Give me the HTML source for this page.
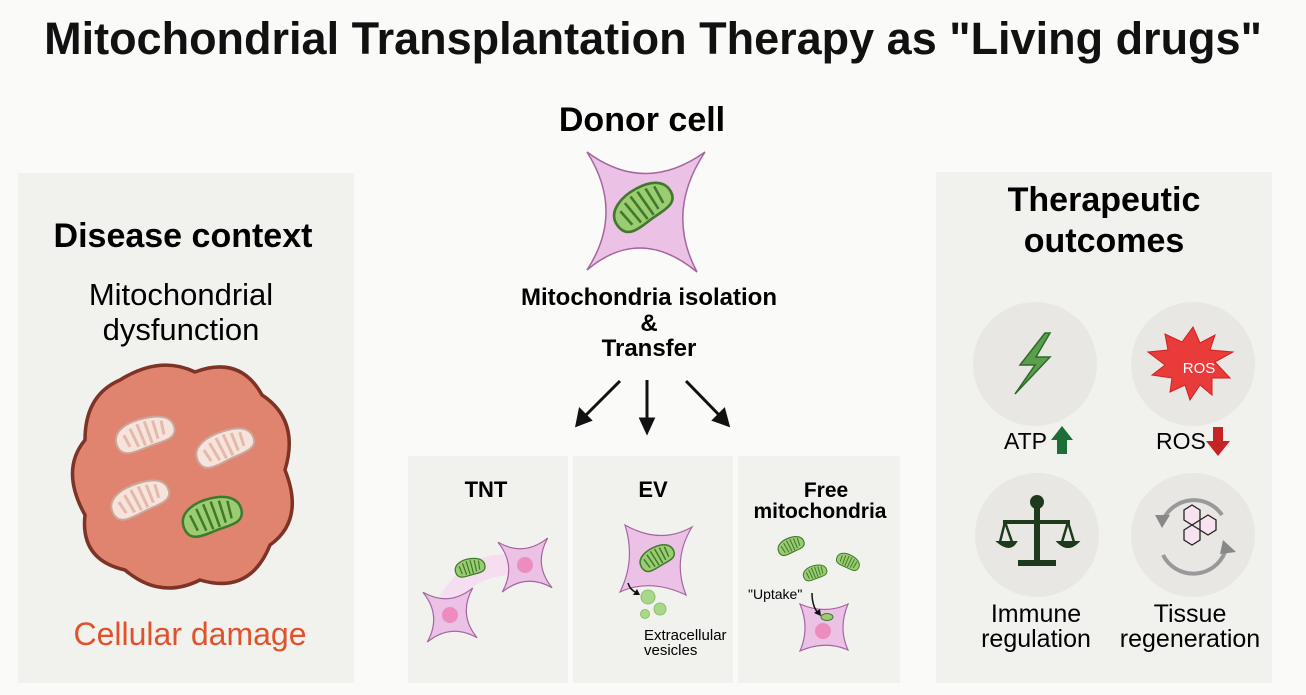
<!DOCTYPE html>
<html><head><meta charset="utf-8"><style>
body{margin:0;background:#fafaf8;}
svg{display:block;font-family:"Liberation Sans",Arial,sans-serif;}
</style></head><body>
<svg width="1306" height="695" viewBox="0 0 1306 695">
<defs>
<g id="mito">
<path d="M-30,0 C-30,-16 -10,-20 5,-18 C22,-16 32,-8 30,4 C28,16 15,14 2,14 C-12,14 -30,18 -30,0Z" fill="#9ccc72" stroke="#3f7a2c" stroke-width="2.5"/>
<path d="M-20,-9 L-18,8 M-12,-13 L-10,11 M-4,-15 L-3,12 M4,-15 L4,12 M12,-13 L11,10 M20,-10 L18,8" stroke="#3f7a2c" stroke-width="2.5" fill="none"/>
</g>
<g id="mitoDmg">
<path d="M-30,0 C-30,-16 -10,-18 5,-16 C22,-14 32,-8 30,4 C28,14 15,12 2,12 C-12,12 -30,16 -30,0Z" fill="#f6e3dc" stroke="#c9a79a" stroke-width="2"/>
<path d="M-20,-7 L-18,6 M-12,-11 L-10,9 M-4,-13 L-3,10 M4,-13 L4,10 M12,-11 L11,8 M20,-8 L18,6" stroke="#e5b9aa" stroke-width="3" fill="none"/>
</g>
</defs>
<text x="653" y="54" text-anchor="middle" font-size="45" font-weight="bold" fill="#111">Mitochondrial Transplantation Therapy as "Living drugs"</text>

<!-- left panel -->
<rect x="18" y="173" width="336" height="510" fill="#f1f1ee"/>
<text x="183" y="247" text-anchor="middle" font-size="34" font-weight="bold">Disease context</text>
<text x="181" y="305" text-anchor="middle" font-size="31">Mitochondrial</text>
<text x="181" y="340" text-anchor="middle" font-size="31">dysfunction</text>
<path d="M120,380 Q160,355 195,372 Q240,355 262,395 Q300,420 285,470 Q305,520 270,545 Q250,595 200,580 Q160,600 125,570 Q80,560 85,515 Q60,470 85,440 Q85,395 120,380Z" fill="#e0836f" stroke="#7d3426" stroke-width="3.5"/>
<use href="#mitoDmg" transform="translate(145,435) rotate(-20)"/>
<use href="#mitoDmg" transform="translate(225,448) rotate(-25)"/>
<use href="#mitoDmg" transform="translate(140,500) rotate(-25)"/>
<use href="#mito" transform="translate(212,517) rotate(-20)"/>
<text x="190" y="645" text-anchor="middle" font-size="32" fill="#e0522c">Cellular damage</text>

<!-- center -->
<text x="642" y="131" text-anchor="middle" font-size="34" font-weight="bold">Donor cell</text>
<path d="M587,152 Q645,195 705,152 Q665,212 697,272 Q640,225 587,270 Q625,212 587,152Z" fill="#ebc1e6" stroke="#a765a0" stroke-width="1.5"/>
<use href="#mito" transform="translate(643,207) rotate(-35) scale(1.05)"/>
<text x="649" y="305" text-anchor="middle" font-size="24" font-weight="bold">Mitochondria isolation</text>
<text x="649" y="331" text-anchor="middle" font-size="24" font-weight="bold">&amp;</text>
<text x="649" y="356" text-anchor="middle" font-size="24" font-weight="bold">Transfer</text>
<g stroke="#111" stroke-width="3" fill="#111">
<line x1="620" y1="381" x2="583" y2="418"/><path d="M577,425 L580,410 L590,420Z"/>
<line x1="647" y1="380" x2="647" y2="422"/><path d="M647,432 L641,419 L653,419Z"/>
<line x1="686" y1="381" x2="722" y2="418"/><path d="M728,425 L714,420 L724,410Z"/>
</g>
<rect x="408" y="456" width="160" height="227" fill="#f1f1ee"/>
<rect x="573" y="456" width="160" height="227" fill="#f1f1ee"/>
<rect x="738" y="456" width="162" height="227" fill="#f1f1ee"/>
<text x="486" y="497" text-anchor="middle" font-size="22" font-weight="bold">TNT</text>
<text x="653" y="497" text-anchor="middle" font-size="22" font-weight="bold">EV</text>
<text x="826" y="497" text-anchor="middle" font-size="21" font-weight="bold">Free</text>
<text x="820" y="518" text-anchor="middle" font-size="21" font-weight="bold">mitochondria</text>
<!-- TNT -->
<path d="M440,595 Q470,550 510,555 L515,575 Q475,575 455,605Z" fill="#f6d9ef" opacity="0.8"/>
<g transform="translate(525,565) rotate(-5)"><path d="M-25,-25 Q0,-8 25,-25 Q8,0 25,25 Q0,8 -25,25 Q-8,0 -25,-25Z" fill="#ebc1e6" stroke="#a765a0" stroke-width="1.2"/><circle r="8" fill="#ec8cbf"/></g>
<g transform="translate(450,615) rotate(-5)"><path d="M-25,-25 Q0,-8 25,-25 Q8,0 25,25 Q0,8 -25,25 Q-8,0 -25,-25Z" fill="#ebc1e6" stroke="#a765a0" stroke-width="1.2"/><circle r="8" fill="#ec8cbf"/></g>
<use href="#mito" transform="translate(470,568) rotate(-15) scale(0.5)"/>
<!-- EV -->
<path d="M625,525 Q660,545 692,527 Q672,560 686,595 Q650,578 620,592 Q636,560 625,525Z" fill="#ebc1e6" stroke="#a765a0" stroke-width="1.2"/>
<use href="#mito" transform="translate(657,558) rotate(-30) scale(0.6)"/>
<path d="M628,583 Q630,590 637,593" stroke="#111" stroke-width="1.5" fill="none"/><path d="M640,595 L633,595 L637,589Z" fill="#111"/>
<circle cx="648" cy="597" r="7" fill="#a8d88a" stroke="#8cc06e"/>
<circle cx="660" cy="609" r="6" fill="#a8d88a" stroke="#8cc06e"/>
<circle cx="645" cy="614" r="4.5" fill="#a8d88a" stroke="#8cc06e"/>
<text x="644" y="640" font-size="15">Extracellular</text>
<text x="644" y="655" font-size="15">vesicles</text>
<!-- Free -->
<use href="#mito" transform="translate(791,546) rotate(-25) scale(0.45)"/>
<use href="#mito" transform="translate(848,562) rotate(25) scale(0.4)"/>
<use href="#mito" transform="translate(815,573) rotate(-20) scale(0.4)"/>
<path d="M800,604 Q825,615 848,604 Q838,628 848,650 Q825,640 800,651 Q810,628 800,604Z" fill="#ebc1e6" stroke="#a765a0" stroke-width="1.2"/>
<circle cx="823" cy="631" r="8" fill="#ec8cbf"/>
<ellipse cx="827" cy="617" rx="6" ry="3.5" fill="#9ccc72" stroke="#3f7a2c"/>
<text x="748" y="599" font-size="14">"Uptake"</text>
<path d="M812,593 Q812,606 818,613" stroke="#111" stroke-width="1.5" fill="none"/><path d="M821,616 L814,613 L820,609Z" fill="#111"/>

<!-- right panel -->
<rect x="936" y="172" width="336" height="511" fill="#f1f1ee"/>
<text x="1104" y="211" text-anchor="middle" font-size="34" font-weight="bold">Therapeutic</text>
<text x="1104" y="252" text-anchor="middle" font-size="34" font-weight="bold">outcomes</text>
<circle cx="1035" cy="364" r="62" fill="#e8e7e3"/>
<circle cx="1193" cy="364" r="62" fill="#e8e7e3"/>
<circle cx="1037" cy="535" r="62" fill="#e8e7e3"/>
<circle cx="1193" cy="535" r="62" fill="#e8e7e3"/>
<path d="M1045,333 L1020,365 L1035,365 L1015,394 L1050,357 L1036,357 L1050,333Z" fill="#5a9f4c" stroke="#2f6a2a" stroke-width="1.5"/>
<path d="M1193,327 L1200,343 L1215,335 L1210,350 L1233,352 L1215,362 L1230,378 L1212,378 L1212,395 L1200,385 L1190,400 L1185,385 L1170,392 L1172,378 L1152,375 L1165,365 L1148,352 L1168,350 L1165,334 L1182,342Z" fill="#ea3b3b" stroke="#c22" stroke-width="1"/>
<text x="1199" y="373" text-anchor="middle" font-size="15" fill="#fff">ROS</text>
<text x="1004" y="449" font-size="23">ATP</text>
<path d="M1057,454 L1057,440 L1051,440 L1062,426 L1073,440 L1067,440 L1067,454Z" fill="#1c6e35"/>
<text x="1156" y="449" font-size="23">ROS</text>
<path d="M1213,427 L1223,427 L1223,441 L1230,441 L1218,456 L1206,441 L1213,441Z" fill="#c62323"/>
<g fill="#1d3a1d" stroke="#1d3a1d">
<circle cx="1037" cy="502" r="7" stroke="none"/>
<rect x="1034" y="505" width="6" height="58" stroke="none"/>
<rect x="1018" y="560" width="38" height="6" stroke="none"/>
<path d="M1003,522 L1070,522" stroke-width="4"/>
<path d="M1005,522 L1000,542 M1005,522 L1012,542 M1068,522 L1062,542 M1068,522 L1074,542" stroke-width="2.5" fill="none"/>
<path d="M998,542 L1016,542 Q1010,552 998,542Z" stroke-width="2"/>
<path d="M1058,542 L1078,542 Q1068,552 1058,542Z" stroke-width="2"/>
</g>
<g fill="none" stroke="#999" stroke-width="4">
<path d="M1163,520 A34,34 0 0 1 1222,515"/>
<path d="M1225,552 A34,34 0 0 1 1163,555"/>
</g>
<path d="M1155,515 L1170,515 L1162,528Z" fill="#888"/>
<path d="M1223,540 L1236,552 L1220,554Z" fill="#888"/>
<g fill="#f7e3ef" stroke="#222" stroke-width="1.3">
<path d="M1184,510 l8,-5 8,5 0,10 -8,5 -8,-5Z"/>
<path d="M1200,520 l8,-5 8,5 0,10 -8,5 -8,-5Z"/>
<path d="M1184,530 l8,-5 8,5 0,10 -8,5 -8,-5Z"/>
</g>
<text x="1036" y="622" text-anchor="middle" font-size="25">Immune</text>
<text x="1036" y="647" text-anchor="middle" font-size="25">regulation</text>
<text x="1190" y="622" text-anchor="middle" font-size="25">Tissue</text>
<text x="1190" y="647" text-anchor="middle" font-size="25">regeneration</text>
</svg>
</body></html>
